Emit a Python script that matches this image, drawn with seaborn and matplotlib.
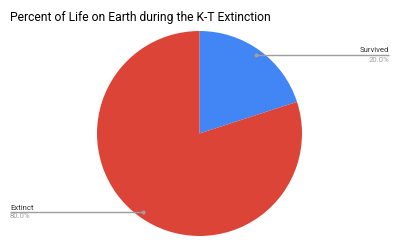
import matplotlib
matplotlib.use("Agg")
import matplotlib.pyplot as plt
import seaborn as sns

categories = ["Survived", "Extinct"]
values = [20.0, 80.0]
pct_labels = ["20.0%", "80.0%"]
title = "Percent of Life on Earth during the K-T Extinction"

sns.set_style("white")
plt.rcParams['font.family'] = ['Roboto', 'DejaVu Sans']
colors = ["#4285F4", "#DB4437"]

fig = plt.figure(figsize=(4.0, 2.48), dpi=100)
ax = fig.add_axes([0, 0, 1, 1])

cx, cy, r = 199.5, 248 - 133.5, 102.5
ax.pie(values, colors=colors, startangle=90, counterclock=False,
       center=(cx, cy), radius=r, frame=True,
       wedgeprops=dict(linewidth=0))
ax.set_xlim(0, 400)
ax.set_ylim(0, 248)
ax.set_aspect('equal')
ax.axis('off')

line_c = "#9E9E9E"
fs = 5.6
# Survived label
ax.plot([256, 389], [248 - 55, 248 - 55], color=line_c, lw=1, solid_capstyle='butt')
ax.plot([256], [248 - 55], 'o', color=line_c, ms=2)
ax.text(389, 248 - 53.5, categories[0], ha='right', va='bottom', fontsize=fs, color="#333333")
ax.text(389, 248 - 56.5, pct_labels[0], ha='right', va='top', fontsize=fs, color="#9E9E9E")
# Extinct label
ax.plot([10, 143], [248 - 212, 248 - 212], color=line_c, lw=1, solid_capstyle='butt')
ax.plot([143], [248 - 212], 'o', color=line_c, ms=2)
ax.text(10, 248 - 210.5, categories[1], ha='left', va='bottom', fontsize=fs, color="#333333")
ax.text(10, 248 - 213.5, pct_labels[1], ha='left', va='top', fontsize=fs, color="#9E9E9E")

ax.text(10, 248 - 18, title, ha='left', va='center', fontsize=8.7, color="#000000")

fig.savefig("out.png", dpi=100)
